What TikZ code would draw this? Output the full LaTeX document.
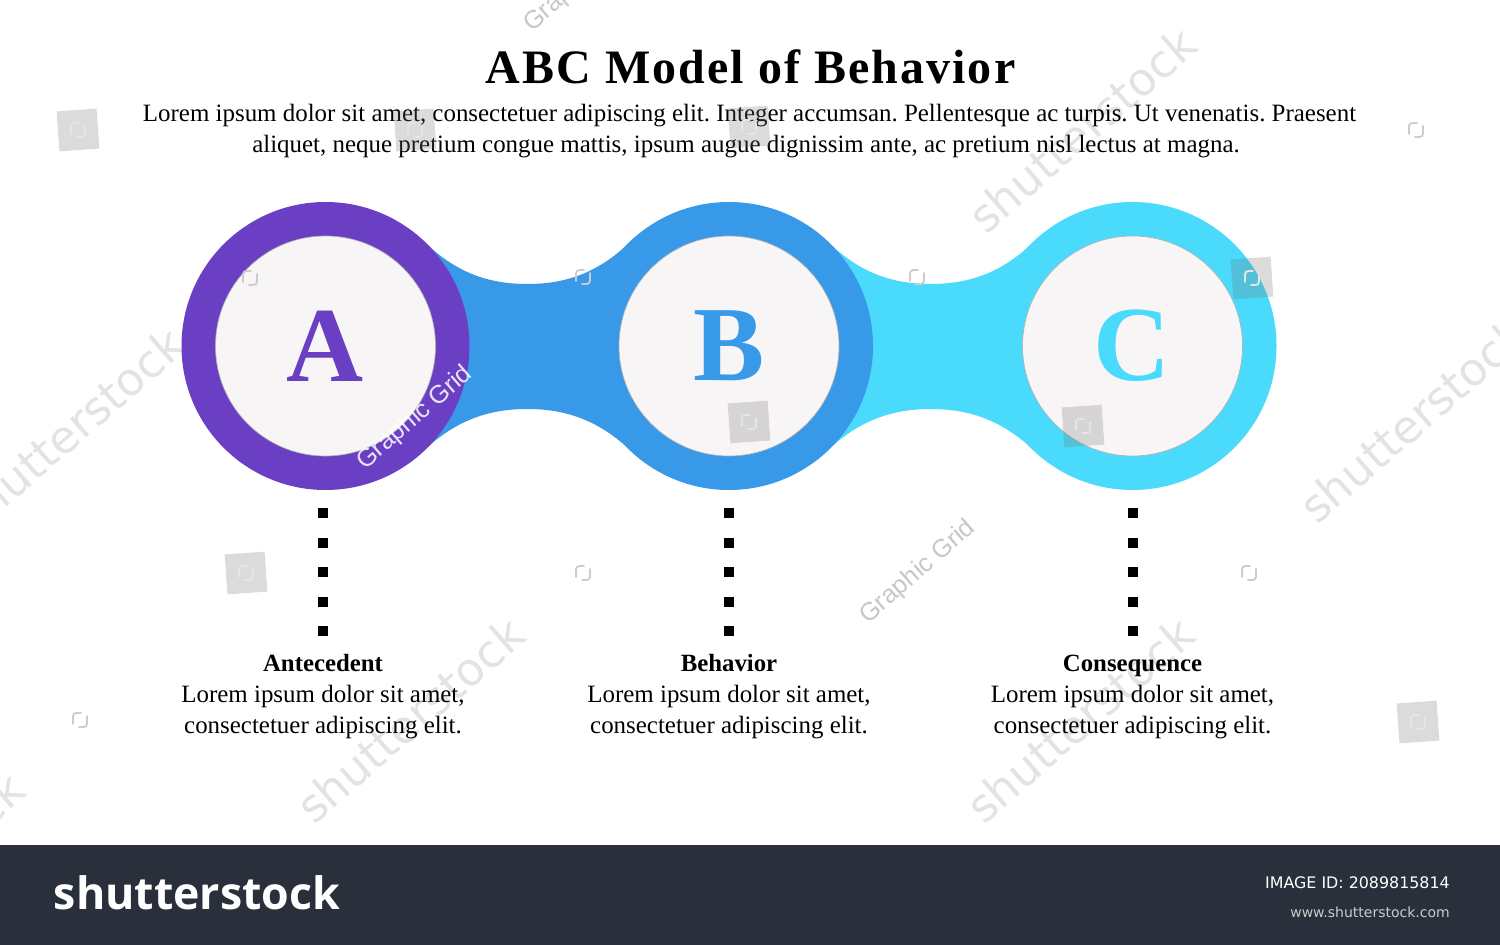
\documentclass[tikz,border=0pt]{standalone}
\usepackage{fontspec}
\setmainfont{Liberation Serif}
\newfontfamily\wmfont{DejaVu Sans}
\newfontfamily\ggfont{Liberation Sans}
\newfontfamily\logofont{Open Sans}
\usetikzlibrary{calc}
\definecolor{cpurple}{HTML}{6A3FC4}
\definecolor{cblue}{HTML}{3899E9}
\definecolor{ccyan}{HTML}{49DAFC}
\definecolor{cface}{HTML}{F8F5F7}
\definecolor{cbar}{HTML}{29303B}
\newcommand{\pxfont}[1]{\fontsize{#1}{#1}\selectfont}
\newcommand{\neckshape}[2]{%
 \fill[#2] ($(#1)+(100,-103)$) .. controls ($(#1)+(131.5,-73)$) and ($(#1)+(163.5,-62)$) .. ($(#1)+(201.75,-62)$)
 .. controls ($(#1)+(240,-62)$) and ($(#1)+(272,-73)$) .. ($(#1)+(303.5,-103)$)
 -- ($(#1)+(303.5,103)$) .. controls ($(#1)+(272,74)$) and ($(#1)+(240,63)$) .. ($(#1)+(201.75,63)$)
 .. controls ($(#1)+(163.5,63)$) and ($(#1)+(131.5,74)$) .. ($(#1)+(100,103)$) -- cycle;}
\tikzset{
 ring/.style={circle,minimum size=216pt,inner sep=0pt,fill=#1},
 face/.style={circle,minimum size=165pt,inner sep=0pt,fill=cface,draw=black!30,line width=.5pt,text=#1,font=\bfseries\pxfont{80}},
 heading/.style={anchor=base,font=\bfseries\pxfont{18.6},inner sep=0pt},
 bodytext/.style={anchor=center,align=center,font=\fontsize{18.7}{23.25}\selectfont,inner sep=0pt},
 dotline/.style={line width=7.5pt,dash pattern=on 7.5pt off 14.6pt,black},
 wm/.style={font=\wmfont\pxfont{34},text=black!11,rotate=41,inner sep=0pt},
 gg/.style={font=\ggfont\pxfont{19},text=#1,rotate=41,inner sep=0pt},
 wmbox/.style={fill=black!55,opacity=.25,minimum size=30pt,inner sep=0pt,rotate=4},
}
\newcommand{\wmglyph}[2]{%
 \draw[#2,line width=1.4pt,line cap=round,rounded corners=2.5pt] ($(#1)+(-7,4)$) -- ($(#1)+(-7,-7)$) -- ($(#1)+(1,-7)$);
 \draw[#2,line width=1.4pt,line cap=round,rounded corners=2.5pt] ($(#1)+(7,-4)$) -- ($(#1)+(7,7)$) -- ($(#1)+(-1,7)$);}
\begin{document}
\frenchspacing
\begin{tikzpicture}[x=0.75pt,y=-0.75pt]
\useasboundingbox (0,0) rectangle (1500,945);
\fill[white] (0,0) rectangle (1500,945);
% faint marks behind
\node[wm] (w1) at (1082,130) {shutterstock};
\node[wm] (w2) at (70,430) {shutterstock};
\node[wm] (w3) at (1413,420) {shutterstock};
\node[wm] (w4) at (410,720) {shutterstock};
\node[wm] (w5) at (1080,720) {shutterstock};
\node[wm] (w8) at (-90,875) {shutterstock};
\node[gg=black!22] (w6) at (918,572) {Graphic Grid};
\node[gg=black!22] (w9) at (582,-20) {Graphic Grid};
% shapes, back to front
\coordinate (pa) at (325.5,346);
\coordinate (pb) at (729,346);
\coordinate (pc) at (1132.5,346);
\neckshape{pb}{ccyan}
\node[ring=ccyan] (rc) at (pc) {};
\neckshape{pa}{cblue}
\node[ring=cblue] (rb) at (pb) {};
\node[ring=cpurple] (ra) at (pa) {};
\node[face=cpurple] (fa) at (pa) {\raisebox{-1pt}{A}};
\node[face=cblue] (fb) at (pb) {\raisebox{-1pt}{B}};
\node[face=ccyan] (fc) at (pc) {C};
% title and intro
\node[inner sep=0pt,font=\bfseries\pxfont{36}\addfontfeatures{LetterSpace=4.3}] (title) at (750.5,67) {ABC Model of Behavior};
\node[bodytext] (intro1) at (749.5,116) {Lorem ipsum dolor sit amet, consectetuer adipiscing elit. Integer accumsan. Pellentesque ac turpis. Ut venenatis. Praesent};
\node[bodytext] (intro2) at (746,147) {aliquet, neque pretium congue mattis, ipsum augue dignissim ante, ac pretium nisl lectus at magna.};
% captions
\node[heading] (ta) at (323,671) {Antecedent};
\node[bodytext] (ba) at (323,712.5) {Lorem ipsum dolor sit amet,\\consectetuer adipiscing elit.};
\node[heading] (tb) at (729,671) {Behavior};
\node[bodytext] (bb) at (729,712.5) {Lorem ipsum dolor sit amet,\\consectetuer adipiscing elit.};
\node[heading] (tc) at (1132.5,671) {Consequence};
\node[bodytext] (bc) at (1132.5,712.5) {Lorem ipsum dolor sit amet,\\consectetuer adipiscing elit.};
% dotted connectors
\draw[dotline,shorten <=13.5pt,shorten >=7.7pt] (ta.north |- ra.south) -- (ta.north);
\draw[dotline,shorten <=13.5pt,shorten >=7.7pt] (tb.north |- rb.south) -- (tb.north);
\draw[dotline,shorten <=13.5pt,shorten >=7.7pt] (tc.north |- rc.south) -- (tc.north);
% marks in front
\node[gg=white,opacity=.85] (w7) at (415,418) {Graphic Grid};
\foreach \nm/\p in {s1/{78,130},s2/{415,130},s3/{749,127},s4/{749,422},s5/{1252,278},s6/{1083,426},s7/{246,573},s8/{1418,722}}{
 \node[wmbox] (\nm) at (\p) {};
 \wmglyph{\nm}{white!90!black}
}
\foreach \nm/\p in {g1/{250,278},g2/{583,277},g3/{917,277},g4/{1416,130},g5/{80,720},g6/{583,573},g7/{1249,573}}{
 \coordinate (\nm) at (\p);
 \wmglyph{\nm}{black!20}
}
% footer
\fill[cbar] (0,845) rectangle (1500,945);
\node[inner sep=0pt,text=white,font=\logofont\bfseries\pxfont{33.5}] (logo) at (197,893) {shutterstock};
\node[anchor=east,inner sep=0pt,text=white,font=\wmfont\pxfont{11.9}] (imgid) at (1450,883) {IMAGE ID: 2089815814};
\node[anchor=east,inner sep=0pt,text=black!20,font=\wmfont\pxfont{10.5}] (url) at (1450,912) {www.shutterstock.com};
\end{tikzpicture}
\end{document}
